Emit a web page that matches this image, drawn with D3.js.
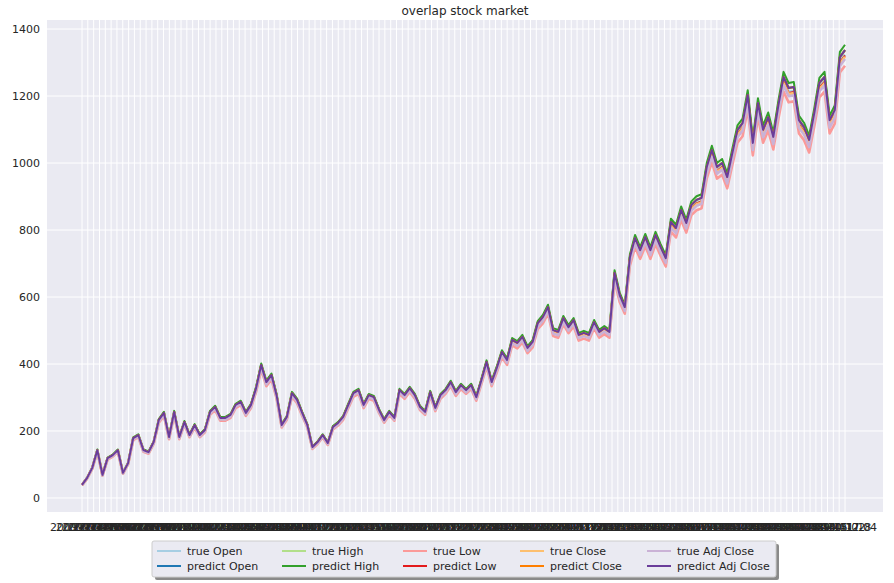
<!DOCTYPE html>
<html><head><meta charset="utf-8">
<script src="https://d3js.org/d3.v7.min.js"></script>
<style>body{margin:0;background:#fff;font-family:"DejaVu Sans",sans-serif;}</style>
</head><body><svg id="c" width="894" height="583"></svg>
<script>
const adjClose = [39,60,90,143,69,119,128,143,75,104,179,188,143,137,167,233,254,182,257,182,227,188,218,188,203,257,272,239,239,248,278,287,254,278,328,397,346,367,307,218,242,313,293,254,218,152,167,188,164,212,224,242,278,313,322,278,307,301,263,233,257,239,322,307,328,307,272,257,316,269,307,322,346,316,337,322,337,301,352,406,346,388,436,412,472,463,481,448,466,522,540,570,501,496,537,510,531,487,493,487,525,496,507,496,672,606,570,719,776,740,779,740,785,749,716,824,806,860,821,875,890,896,988,1039,988,1000,958,1030,1099,1119,1203,1060,1179,1099,1137,1078,1173,1257,1224,1227,1128,1107,1069,1149,1239,1257,1128,1158,1316,1337];
const seriesNames = ["true Open","predict Open","true High","predict High","true Low","predict Low","true Close","predict Close","true Adj Close","predict Adj Close"];
const seriesFactor = [0.99,1.0,1.0,1.012,0.965,0.988,0.985,1.0,0.98,1.0];
const colors = ["#a6cee3","#1f78b4","#b2df8a","#33a02c","#fb9a99","#e31a1c","#fdbf6f","#ff7f00","#cab2d6","#6a3d9a"];
const yTicks = [0,200,400,600,800,1000,1200,1400];
const nTicks = 132;
const tickLabels = d3.range(nTicks).map(i => d3.timeFormat("%Y-%m-%d")(d3.timeDay.offset(new Date(2009,2,9), i*16)));

const svg = d3.select("#c");
const L=47,R=883,T=20,B=512;
const y = d3.scaleLinear().domain([-41.8,1426.9]).range([B,T]);
const x = d3.scaleLinear().domain([0,adjClose.length-1]).range([82,845]);
const xt = d3.scaleLinear().domain([0,nTicks-1]).range([82,845]);

svg.append("rect").attr("x",L).attr("y",T).attr("width",R-L).attr("height",B-T).attr("fill","#eaeaf2");
const g = svg.append("g");
tickLabels.forEach((t,i)=>g.append("line").attr("x1",xt(i)).attr("x2",xt(i)).attr("y1",T).attr("y2",B).attr("stroke","#fff").attr("stroke-width",1));
yTicks.forEach(v=>g.append("line").attr("x1",L).attr("x2",R).attr("y1",y(v)).attr("y2",y(v)).attr("stroke","#fff").attr("stroke-width",1));
yTicks.forEach(v=>svg.append("text").attr("x",40).attr("y",y(v)+4).attr("text-anchor","end").attr("font-size",11).attr("fill","#262626").text(v));
tickLabels.forEach((t,i)=>svg.append("text").attr("x",xt(i)).attr("y",531).attr("text-anchor","middle").attr("font-size",11).attr("fill","#262626").text(t));

const line = d3.line().x((d,i)=>x(i)).y(d=>y(d));
seriesNames.forEach((n,k)=>{
  const vals = adjClose.map(v=>v*seriesFactor[k]);
  svg.append("path").attr("d",line(vals)).attr("fill","none").attr("stroke",colors[k]).attr("stroke-width",k%2?2:2.6).attr("stroke-linejoin","round");
});
svg.append("text").attr("x",(L+R)/2).attr("y",15).attr("text-anchor","middle").attr("font-size",12).attr("fill","#262626").text("overlap stock market");

// legend
const lx=152, ly=541, lw=624, lh=36;
svg.append("rect").attr("x",lx+3).attr("y",ly+3).attr("width",lw).attr("height",lh).attr("fill","#8a8a8a").attr("rx",2);
svg.append("rect").attr("x",lx).attr("y",ly).attr("width",lw).attr("height",lh).attr("fill","#eaeaf2").attr("stroke","#cccccc").attr("rx",2);
const colStart=[157,282,403,520,647];
seriesNames.forEach((n,k)=>{
  const c=Math.floor(k/2), r=k%2;
  const px=colStart[c];
  const py=ly+10+r*15;
  svg.append("line").attr("x1",px).attr("x2",px+24).attr("y1",py).attr("y2",py).attr("stroke",colors[k]).attr("stroke-width",2);
  svg.append("text").attr("x",px+30).attr("y",py+4).attr("font-size",11).attr("fill","#262626").text(n);
});
</script></body></html>
